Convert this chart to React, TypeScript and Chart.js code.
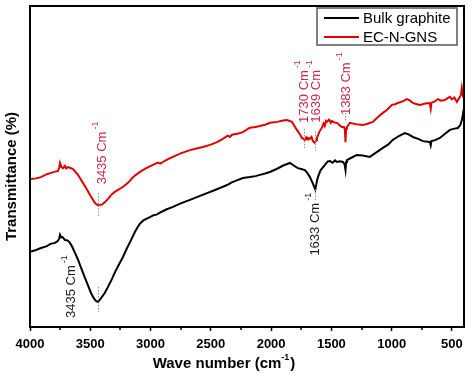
import React, { useEffect, useRef } from "react";
import { Chart, registerables } from "chart.js";

Chart.register(...registerables);

const seriesLabels = ["Bulk graphite", "EC-N-GNS"];

const bulkWavenumbers = [
  4000, 3950, 3909, 3860, 3830, 3793, 3770, 3758, 3751, 3742, 3730, 3710, 3690, 3668, 3650, 3627, 3600, 3585,
  3544, 3515, 3494, 3470, 3453, 3435, 3411, 3380, 3353, 3320, 3295, 3260, 3229, 3195, 3163, 3130, 3104, 3088,
  3060, 3040, 3005, 2970, 2950, 2922, 2870, 2814, 2750, 2673, 2600, 2532, 2470, 2425, 2380, 2350, 2335, 2290, 2234,
  2176, 2130, 2093, 2050, 2010, 1950, 1900, 1844, 1800, 1778, 1750, 1720, 1700, 1678, 1655, 1633, 1620, 1612,
  1590, 1554, 1530, 1512, 1490, 1470, 1454, 1430, 1404, 1390, 1383, 1378, 1371, 1330, 1289, 1240, 1181, 1130,
  1073, 1030, 990, 940, 891, 860, 824, 780, 741, 700, 683, 676, 670, 640, 600, 560, 517, 480, 451, 430, 418,
  410, 402,
];
const bulkValues = [
  23.4, 24.0, 24.6, 25.2, 25.9, 26.2, 26.8, 27.5, 28.7, 27.9, 28.0, 27.1, 27.0, 26.2, 25.0, 23.1, 20.8, 19.3,
  15.3, 12.6, 10.6, 8.9, 8.1, 7.8, 9.0, 10.6, 12.5, 15.0, 17.1, 19.6, 21.8, 24.6, 27.0, 29.6, 31.3, 32.2,
  33.2, 33.6, 34.2, 34.9, 35.0, 35.6, 36.6, 37.4, 38.5, 39.6, 40.7, 41.7, 42.6, 43.3, 44.0, 44.5, 44.9, 45.6, 46.4,
  46.7, 47.0, 47.4, 47.8, 48.3, 49.3, 50.3, 51.1, 50.0, 49.5, 49.2, 48.9, 48.0, 46.7, 44.8, 42.8, 45.5, 46.7,
  48.8, 50.5, 51.6, 51.7, 51.2, 51.9, 51.4, 51.6, 51.4, 50.6, 48.9, 51.4, 52.0, 52.8, 53.6, 53.4, 53.0, 54.3,
  55.8, 56.8, 58.3, 59.5, 60.4, 60.0, 59.2, 58.6, 57.9, 57.7, 57.6, 56.6, 57.9, 58.2, 58.9, 60.1, 61.4, 61.8,
  62.0, 63.0, 64.5, 66.0, 67.8,
];

const ecWavenumbers = [
  4000, 3950, 3909, 3860, 3826, 3790, 3768, 3758, 3751, 3740, 3726, 3710, 3700, 3685, 3670, 3643, 3602, 3561,
  3530, 3502, 3461, 3435, 3400, 3378, 3350, 3328, 3300, 3270, 3230, 3187, 3150, 3121, 3088, 3040, 2980, 2940,
  2920, 2897, 2860, 2814, 2750, 2673, 2620, 2565, 2500, 2449, 2400, 2360, 2342, 2325, 2280, 2234, 2176, 2130,
  2093, 2050, 2010, 1950, 1900, 1869, 1827, 1786, 1760, 1745, 1730, 1720, 1710, 1700, 1695, 1680, 1665, 1653,
  1639, 1625, 1620, 1600, 1579, 1565, 1555, 1545, 1537, 1520, 1505, 1496, 1475, 1454, 1430, 1413, 1396, 1388,
  1383, 1378, 1371, 1347, 1300, 1239, 1200, 1156, 1120, 1073, 1040, 998, 970, 949, 910, 874, 850, 824, 790, 766,
  720, 690, 683, 676, 670, 640, 617, 590, 559, 535, 517, 500, 480, 459, 445, 434, 425, 418, 410, 402,
];
const ecValues = [
  46.1, 46.3, 46.7, 47.6, 48.0, 48.4, 48.6, 49.6, 51.1, 49.8, 49.5, 50.2, 49.4, 49.8, 49.6, 49.2, 47.4, 44.9,
  43.0, 41.1, 38.6, 37.9, 38.2, 38.9, 40.0, 41.1, 42.0, 42.7, 43.6, 44.9, 46.5, 47.4, 48.3, 49.4, 50.5, 51.2,
  50.9, 51.4, 52.2, 53.0, 54.1, 55.1, 55.6, 56.1, 56.8, 57.6, 58.6, 59.6, 59.2, 59.9, 60.2, 60.7, 62.1, 62.3,
  62.6, 63.0, 63.6, 63.9, 64.3, 64.5, 63.9, 61.4, 60.0, 58.9, 58.6, 58.3, 59.0, 58.4, 58.9, 58.6, 59.2, 57.9,
  57.4, 58.2, 58.9, 60.8, 62.1, 63.4, 62.6, 64.2, 63.9, 64.6, 63.6, 64.2, 63.7, 63.6, 62.8, 62.3, 62.3, 61.5,
  57.6, 61.8, 62.3, 63.6, 63.2, 62.9, 63.3, 63.9, 65.2, 66.7, 67.6, 69.2, 69.4, 69.8, 70.3, 71.0, 70.6, 69.8, 69.4, 69.2,
  69.6, 69.8, 69.6, 68.0, 69.9, 70.3, 71.0, 70.5, 70.7, 71.3, 71.7, 70.9, 71.5, 70.1, 71.0, 71.7, 72.4, 74.5, 72.5, 73.5,
];

const xTickLabels = [4000, 3500, 3000, 2500, 2000, 1500, 1000, 500];
const xMinorTicks = [3750, 3250, 2750, 2250, 1750, 1250, 750];

const peakWavenumbers = [3435, 3435, 1633, 1730, 1639, 1383];
const peakLabels = ["3435 Cm", "3435 Cm", "1633 Cm", "1730 Cm", "1639 Cm", "1383 Cm"];
const peakSeries = [1, 0, 0, 1, 1, 1];

// placement of the peak labels relative to the curve (style only)
const peakStyles = [
  { dx: 4, dy: -21, l0: -12, l1: 12 },
  { dx: -27, dy: 16, l0: -15, l1: 10 },
  { dx: 0, dy: 66, l0: 0, l1: 11 },
  { dx: 1, dy: -16, l0: -10, l1: 9 },
  { dx: 2, dy: -20, l0: -11, l1: 8 },
  { dx: 1, dy: -27, l0: -29, l1: -20 },
];

const FONT = "Arial, 'Liberation Sans', sans-serif";
const BLACK = "#000000";
const RED = "#e00000";
const RED_TEXT = "#c8284e";

function valueAt(wns: number[], vals: number[], w: number): number {
  for (let i = 0; i < wns.length - 1; i++) {
    const a = wns[i];
    const b = wns[i + 1];
    if (w <= a && w >= b) {
      const t = a === b ? 0 : (a - w) / (a - b);
      return vals[i] + t * (vals[i + 1] - vals[i]);
    }
  }
  return vals[vals.length - 1];
}

const decorPlugin = {
  id: "decor",
  afterDatasetsDraw(chart: any) {
    const { ctx, chartArea: ca, scales } = chart;
    const x = scales.x;
    const y = scales.y;
    ctx.save();

    // frame
    ctx.strokeStyle = "#000";
    ctx.lineWidth = 2;
    ctx.strokeRect(ca.left, ca.top, ca.right - ca.left, ca.bottom - ca.top);

    // minor ticks
    ctx.lineWidth = 1.5;
    xMinorTicks.forEach((v) => {
      const px = Math.round(x.getPixelForValue(v));
      ctx.beginPath();
      ctx.moveTo(px, ca.bottom);
      ctx.lineTo(px, ca.bottom + 3);
      ctx.stroke();
    });

    // peak annotations
    peakWavenumbers.forEach((w, i) => {
      const s = peakSeries[i];
      const wns = s === 0 ? bulkWavenumbers : ecWavenumbers;
      const vals = s === 0 ? bulkValues : ecValues;
      const px = x.getPixelForValue(w);
      const py = y.getPixelForValue(valueAt(wns, vals, w));
      const st = peakStyles[i];
      const color = s === 0 ? "#1a1a1a" : RED_TEXT;
      ctx.strokeStyle = "#8c8c8c";
      ctx.lineWidth = 1;
      ctx.setLineDash([1.5, 1.5]);
      ctx.beginPath();
      ctx.moveTo(Math.round(px) + 0.5, py + st.l0);
      ctx.lineTo(Math.round(px) + 0.5, py + st.l1);
      ctx.stroke();
      ctx.setLineDash([]);

      ctx.save();
      ctx.translate(px + st.dx, py + st.dy);
      ctx.rotate(-Math.PI / 2);
      ctx.fillStyle = color;
      ctx.font = `13px ${FONT}`;
      ctx.textAlign = "left";
      ctx.textBaseline = "middle";
      ctx.fillText(peakLabels[i], 0, 0);
      const wd = ctx.measureText(peakLabels[i]).width;
      ctx.font = `9px ${FONT}`;
      ctx.fillText("-1", wd + 2, -7);
      ctx.restore();
    });

    // legend
    const bx = ca.right - 147;
    const by = ca.top + 2;
    ctx.strokeStyle = "#555";
    ctx.lineWidth = 1.5;
    ctx.strokeRect(bx, by, 140, 37);
    chart.data.datasets.forEach((ds: any, i: number) => {
      const ly = by + 10 + i * 19;
      ctx.strokeStyle = ds.borderColor;
      ctx.lineWidth = 2;
      ctx.beginPath();
      ctx.moveTo(bx + 7, ly);
      ctx.lineTo(bx + 42, ly);
      ctx.stroke();
      ctx.fillStyle = "#000";
      ctx.font = `15px ${FONT}`;
      ctx.textAlign = "left";
      ctx.textBaseline = "middle";
      ctx.fillText(ds.label, bx + 46, ly + 1);
    });

    // y title
    ctx.save();
    ctx.translate(12, (ca.top + ca.bottom) / 2 + 10);
    ctx.rotate(-Math.PI / 2);
    ctx.fillStyle = "#000";
    ctx.font = `bold 15px ${FONT}`;
    ctx.textAlign = "center";
    ctx.textBaseline = "middle";
    ctx.fillText("Transmittance (%)", 0, 0);
    ctx.restore();

    // x title
    const main = "Wave number (cm";
    ctx.font = `bold 15px ${FONT}`;
    const w1 = ctx.measureText(main).width;
    const w3 = ctx.measureText(")").width;
    ctx.font = `bold 9px ${FONT}`;
    const w2 = ctx.measureText("-1").width;
    const total = w1 + w2 + 1 + w3;
    const cx = (ca.left + ca.right) / 2 - 23;
    const ty = ca.bottom + 37;
    let sx = cx - total / 2;
    ctx.fillStyle = "#000";
    ctx.textAlign = "left";
    ctx.textBaseline = "middle";
    ctx.font = `bold 15px ${FONT}`;
    ctx.fillText(main, sx, ty);
    sx += w1;
    ctx.font = `bold 9px ${FONT}`;
    ctx.fillText("-1", sx, ty - 6);
    sx += w2 + 1;
    ctx.font = `bold 15px ${FONT}`;
    ctx.fillText(")", sx, ty);

    ctx.restore();
  },
};

export default function App() {
  const canvasRef = useRef<HTMLCanvasElement | null>(null);

  useEffect(() => {
    if (!canvasRef.current) return;
    const chart = new Chart(canvasRef.current, {
      type: "line",
      data: {
        datasets: [
          {
            label: seriesLabels[0],
            data: bulkWavenumbers.map((w, i) => ({ x: w, y: bulkValues[i] })),
            borderColor: BLACK,
            borderWidth: 2,
            pointRadius: 0,
            tension: 0,
          },
          {
            label: seriesLabels[1],
            data: ecWavenumbers.map((w, i) => ({ x: w, y: ecValues[i] })),
            borderColor: RED,
            borderWidth: 2,
            pointRadius: 0,
            tension: 0,
          },
        ],
      },
      options: {
        responsive: false,
        animation: false,
        devicePixelRatio: 1,
        layout: { padding: { left: 30, top: 6, right: 10, bottom: 0 } },
        plugins: { legend: { display: false }, tooltip: { enabled: false } },
        scales: {
          x: {
            type: "linear",
            min: 400,
            max: 4000,
            reverse: true,
            afterBuildTicks: (scale: any) => {
              scale.ticks = xTickLabels.map((v) => ({ value: v }));
            },
            afterFit: (scale: any) => {
              scale.height = 52;
              scale.paddingLeft = 0;
              scale.paddingRight = 0;
            },
            ticks: {
              color: "#000",
              font: { family: FONT, size: 13, weight: "bold" },
              padding: 6,
              maxRotation: 0,
              autoSkip: false,
              callback: (v: any) => String(v),
            },
            grid: {
              drawOnChartArea: false,
              drawTicks: true,
              tickLength: 4,
              tickColor: "#000",
              tickWidth: 1.5,
            },
            border: { display: true, color: "#000", width: 2 },
          },
          y: {
            display: false,
            min: 0,
            max: 100,
          },
        },
      },
      plugins: [decorPlugin],
    });
    return () => chart.destroy();
  }, []);

  return (
    <div style={{ position: "absolute", left: 0, top: 0, width: 474, height: 379, background: "#fff" }}>
      <canvas ref={canvasRef} width={474} height={379} style={{ display: "block" }} />
    </div>
  );
}
